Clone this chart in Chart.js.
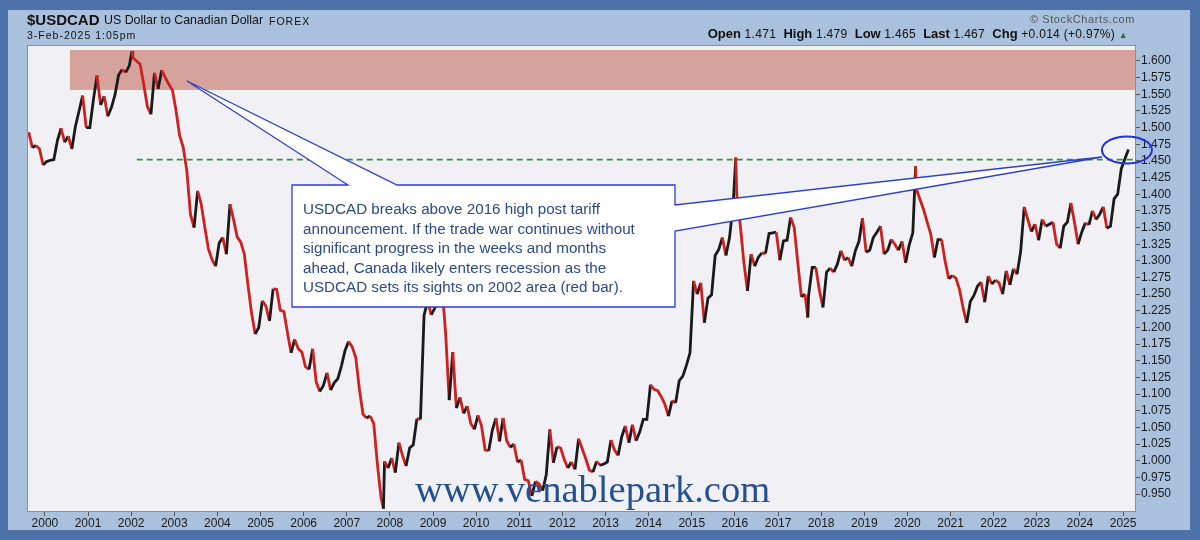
<!DOCTYPE html>
<html>
<head>
<meta charset="utf-8">
<script src="https://cdn.jsdelivr.net/npm/chart.js@4.4.1/dist/chart.umd.min.js"></script>
<style>
  html, body { margin: 0; padding: 0; background: #4d72a9; }
  #wrap { position: relative; width: 1200px; height: 540px; overflow: hidden; font-family: "Liberation Sans", Arial, sans-serif; }
  #chart { position: absolute; left: 0; top: 0; }
  .t { position: absolute; white-space: nowrap; color: #111; }
  #sym { left: 27px; top: 12px; font-size: 15px; line-height: 15px; font-weight: bold; }
  #name { left: 104px; top: 14px; font-size: 12.4px; line-height: 13px; }
  #forex { left: 269px; top: 16px; font-size: 10.5px; line-height: 10.5px; letter-spacing: 1px; }
  #date { left: 27px; top: 30px; font-size: 10.5px; line-height: 10.5px; letter-spacing: 1px; }
  #brand { right: 65px; top: 14px; font-size: 11px; line-height: 11px; letter-spacing: 0.6px; color: #555; }
  #ohlc { right: 72px; top: 27px; font-size: 12px; line-height: 13px; letter-spacing: 0.3px; }
  #ohlc b { font-size: 13px; letter-spacing: 0; }
  #ohlc .up { font-size: 9px; color: #2f6b3c; }
  #note { left: 303px; top: 199px; font-size: 15.2px; line-height: 19.6px; color: #2b4a86; }
  #web { left: 415px; top: 470px; font-family: "Liberation Serif", "DejaVu Serif", serif; font-size: 38.6px; line-height: 38px; color: #23508f; }
</style>
</head>
<body>
<div id="wrap">
  <canvas id="chart" width="1200" height="540"></canvas>
  <div class="t" id="sym">$USDCAD</div>
  <div class="t" id="name">US Dollar to Canadian Dollar</div>
  <div class="t" id="forex">FOREX</div>
  <div class="t" id="date">3-Feb-2025 1:05pm</div>
  <div class="t" id="brand">© StockCharts.com</div>
  <div class="t" id="ohlc"><b>Open</b> 1.471 &nbsp;<b>High</b> 1.479 &nbsp;<b>Low</b> 1.465 &nbsp;<b>Last</b> 1.467 &nbsp;<b>Chg</b> +0.014 (+0.97%) <span class="up">▲</span></div>
  <div class="t" id="note">USDCAD breaks above 2016 high post tariff<br>announcement. If the trade war continues without<br>significant progress in the weeks and months<br>ahead, Canada likely enters recession as the<br>USDCAD sets its sights on 2002 area (red bar).</div>
  <div class="t" id="web">www.venablepark.com</div>
</div>
<script>
// 월별 종가 (1999년 8월부터)
const startYear = 1999;
const startMonth = 7; // 0 = Jan
const closes = [
  1.493, 1.470, 1.473, 1.468, 1.444, // 1999 Aug-Dec
  1.449, 1.451, 1.452, 1.481, 1.499, 1.478, 1.487, 1.468, 1.502, 1.525, 1.548, 1.500, // 2000
  1.500, 1.542, 1.578, 1.534, 1.547, 1.517, 1.530, 1.549, 1.579, 1.587, 1.583, 1.593, // 2001
  1.605, 1.600, 1.595, 1.565, 1.532, 1.520, 1.582, 1.558, 1.586, 1.575, 1.565, 1.556, // 2002
  1.525, 1.488, 1.470, 1.435, 1.370, 1.350, 1.405, 1.385, 1.350, 1.318, 1.302, 1.292, // 2003
  1.327, 1.335, 1.310, 1.385, 1.362, 1.336, 1.328, 1.310, 1.264, 1.222, 1.190, 1.200, // 2004
  1.240, 1.232, 1.210, 1.258, 1.257, 1.226, 1.224, 1.192, 1.162, 1.182, 1.168, 1.163, // 2005
  1.141, 1.137, 1.168, 1.118, 1.104, 1.113, 1.132, 1.106, 1.117, 1.123, 1.142, 1.165, // 2006
  1.179, 1.171, 1.155, 1.108, 1.070, 1.064, 1.067, 1.056, 0.996, 0.946, 0.999, 0.989, // 2007
  1.004, 0.982, 1.027, 1.008, 0.992, 1.019, 1.024, 1.063, 1.062, 1.218, 1.240, 1.219, // 2008
  1.229, 1.271, 1.260, 1.192, 1.091, 1.163, 1.079, 1.095, 1.071, 1.082, 1.056, 1.047, // 2009
  1.068, 1.052, 1.016, 1.015, 1.046, 1.064, 1.029, 1.064, 1.030, 1.020, 1.025, 0.998, // 2010
  1.001, 0.972, 0.970, 0.947, 0.969, 0.965, 0.955, 0.979, 1.047, 0.997, 1.021, 1.019, // 2011
  1.002, 0.989, 0.998, 0.987, 1.033, 1.018, 1.003, 0.986, 0.983, 0.999, 0.993, 0.995, // 2012
  0.998, 1.031, 1.016, 1.008, 1.036, 1.052, 1.027, 1.054, 1.030, 1.043, 1.062, 1.062, // 2013
  1.114, 1.107, 1.105, 1.096, 1.085, 1.067, 1.090, 1.087, 1.120, 1.127, 1.143, 1.162, // 2014
  1.270, 1.250, 1.267, 1.207, 1.244, 1.249, 1.308, 1.317, 1.335, 1.308, 1.335, 1.384, // 2015
  1.401, 1.353, 1.297, 1.255, 1.310, 1.292, 1.305, 1.312, 1.311, 1.341, 1.342, 1.343, // 2016
  1.301, 1.330, 1.331, 1.365, 1.350, 1.297, 1.246, 1.250, 1.248, 1.290, 1.290, 1.256, // 2017
  1.230, 1.283, 1.289, 1.283, 1.295, 1.315, 1.301, 1.305, 1.292, 1.315, 1.329, 1.364, // 2018
  1.313, 1.316, 1.335, 1.343, 1.352, 1.310, 1.316, 1.332, 1.325, 1.316, 1.329, 1.297, // 2019
  1.324, 1.342, 1.408, 1.392, 1.377, 1.358, 1.340, 1.305, 1.332, 1.332, 1.299, 1.273, // 2020
  1.278, 1.274, 1.257, 1.229, 1.207, 1.239, 1.248, 1.262, 1.268, 1.238, 1.277, 1.265, // 2021
  1.271, 1.267, 1.250, 1.285, 1.264, 1.288, 1.280, 1.314, 1.381, 1.362, 1.344, 1.355, // 2022
  1.331, 1.362, 1.352, 1.355, 1.358, 1.325, 1.319, 1.352, 1.358, 1.387, 1.357, 1.325, // 2023
  1.343, 1.357, 1.354, 1.375, 1.362, 1.370, 1.381, 1.349, 1.352, 1.393, 1.400, 1.438, // 2024
  1.453, 1.467 // 2025 Jan-Feb
];

// 월중 극값 (주봉 고점/저점)
const spikeX = [2002.02, 2007.85, 2016.02, 2017.69, 2020.19];
const spikeY = [1.615, 0.928, 1.455, 1.215, 1.442];

const yearTicks = [2000, 2001, 2002, 2003, 2004, 2005, 2006, 2007, 2008, 2009, 2010, 2011, 2012,
  2013, 2014, 2015, 2016, 2017, 2018, 2019, 2020, 2021, 2022, 2023, 2024, 2025];
const priceTicks = [0.950, 0.975, 1.000, 1.025, 1.050, 1.075, 1.100, 1.125, 1.150, 1.175, 1.200,
  1.225, 1.250, 1.275, 1.300, 1.325, 1.350, 1.375, 1.400, 1.425, 1.450, 1.475, 1.500,
  1.525, 1.550, 1.575, 1.600];

// 2002 구간 (빨간 막대), 2016 고점 저항선
const bandStart = 2000.58;
const bandLow = 1.5565;
const bandHigh = 1.6165;
const resistance = 1.452;
const resistanceStart = 2002.13;
const circleX = 2025.09;
const circleY = 1.4664;

const points = closes.map((v, i) => ({ x: startYear + (startMonth + i + 0.5) / 12, y: v }));
spikeX.forEach((x, i) => points.push({ x: x, y: spikeY[i] }));
points.sort((a, b) => a.x - b.x);

const decor = {
  id: "decor",
  beforeDraw(chart) {
    const { ctx, chartArea: a } = chart;
    ctx.save();
    ctx.fillStyle = "#4d72a9";
    ctx.fillRect(0, 0, 1200, 540);
    ctx.fillStyle = "#a9c1dd";
    ctx.fillRect(8, 10, 1182, 520);
    ctx.fillStyle = "#f0f0f5";
    ctx.fillRect(a.left, a.top, a.right - a.left, a.bottom - a.top);
    ctx.restore();
  },
  beforeDatasetsDraw(chart) {
    const { ctx, chartArea: a } = chart;
    const x = chart.scales.x, y = chart.scales.y;
    ctx.save();
    const bx = x.getPixelForValue(bandStart);
    const by1 = y.getPixelForValue(bandHigh), by2 = y.getPixelForValue(bandLow);
    ctx.fillStyle = "#d5a39c";
    ctx.fillRect(bx, by1, a.right - bx, by2 - by1);
    const ly = y.getPixelForValue(resistance);
    ctx.strokeStyle = "#3b8c4e";
    ctx.lineWidth = 1.6;
    ctx.setLineDash([6, 4]);
    ctx.beginPath();
    ctx.moveTo(x.getPixelForValue(resistanceStart), ly);
    ctx.lineTo(a.right, ly);
    ctx.stroke();
    ctx.restore();
  },
  afterDatasetsDraw(chart) {
    const { ctx, chartArea: a } = chart;
    const x = chart.scales.x, y = chart.scales.y;
    ctx.save();
    // 말풍선
    ctx.beginPath();
    ctx.moveTo(292, 185);
    ctx.lineTo(348, 185);
    ctx.lineTo(187, 81);
    ctx.lineTo(397, 185);
    ctx.lineTo(675, 185);
    ctx.lineTo(675, 205);
    ctx.lineTo(1102, 157);
    ctx.lineTo(675, 231);
    ctx.lineTo(675, 307);
    ctx.lineTo(292, 307);
    ctx.closePath();
    ctx.fillStyle = "#ffffff";
    ctx.fill();
    ctx.strokeStyle = "#2b3fcf";
    ctx.lineWidth = 1.3;
    ctx.stroke();
    // 테두리
    ctx.strokeStyle = "#8a8f99";
    ctx.lineWidth = 1;
    ctx.strokeRect(a.left + 0.5, a.top + 0.5, a.right - a.left - 1, a.bottom - a.top - 1);
    // 원
    ctx.beginPath();
    ctx.ellipse(x.getPixelForValue(circleX), y.getPixelForValue(circleY), 25, 13.5, 0, 0, Math.PI * 2);
    ctx.strokeStyle = "#2233d6";
    ctx.lineWidth = 2;
    ctx.stroke();
    ctx.restore();
  },
};

new Chart(document.getElementById("chart").getContext("2d"), {
  type: "line",
  data: {
    datasets: [
      {
        data: points,
        borderWidth: 2.8,
        borderColor: "#1a1a1a",
        pointRadius: 0,
        tension: 0,
        segment: {
          borderColor: (c) => (c.p1.parsed.y < c.p0.parsed.y ? "#cf1f1f" : "#1a1a1a"),
        },
      },
    ],
  },
  options: {
    responsive: false,
    animation: false,
    layout: { padding: { left: 27, top: 45, right: 10, bottom: 0 } },
    plugins: { legend: { display: false }, tooltip: { enabled: false } },
    scales: {
      x: {
        type: "linear",
        min: 1999.585,
        max: 2025.3,
        afterBuildTicks: (s) => { s.ticks = yearTicks.map((v) => ({ value: v })); },
        afterFit: (s) => { s.height = 28; },
        grid: { drawOnChartArea: false, drawTicks: true, tickLength: 4, color: "#555" },
        border: { display: false },
        ticks: {
          autoSkip: false,
          maxRotation: 0,
          padding: 0,
          color: "#1a1a1a",
          font: { family: "'Liberation Sans', Arial", size: 12 },
          callback: (v) => String(Math.round(v)),
        },
      },
      y: {
        position: "right",
        min: 0.923,
        max: 1.624,
        afterBuildTicks: (s) => { s.ticks = priceTicks.map((v) => ({ value: v })); },
        afterFit: (s) => { s.width = 54; },
        grid: { drawOnChartArea: false, drawTicks: true, tickLength: 4, color: "#555" },
        border: { display: false },
        ticks: {
          autoSkip: false,
          padding: 1,
          color: "#1a1a1a",
          font: { family: "'Liberation Sans', Arial", size: 12 },
          callback: (v) => v.toFixed(3),
        },
      },
    },
  },
  plugins: [decor],
});
</script>
</body>
</html>
